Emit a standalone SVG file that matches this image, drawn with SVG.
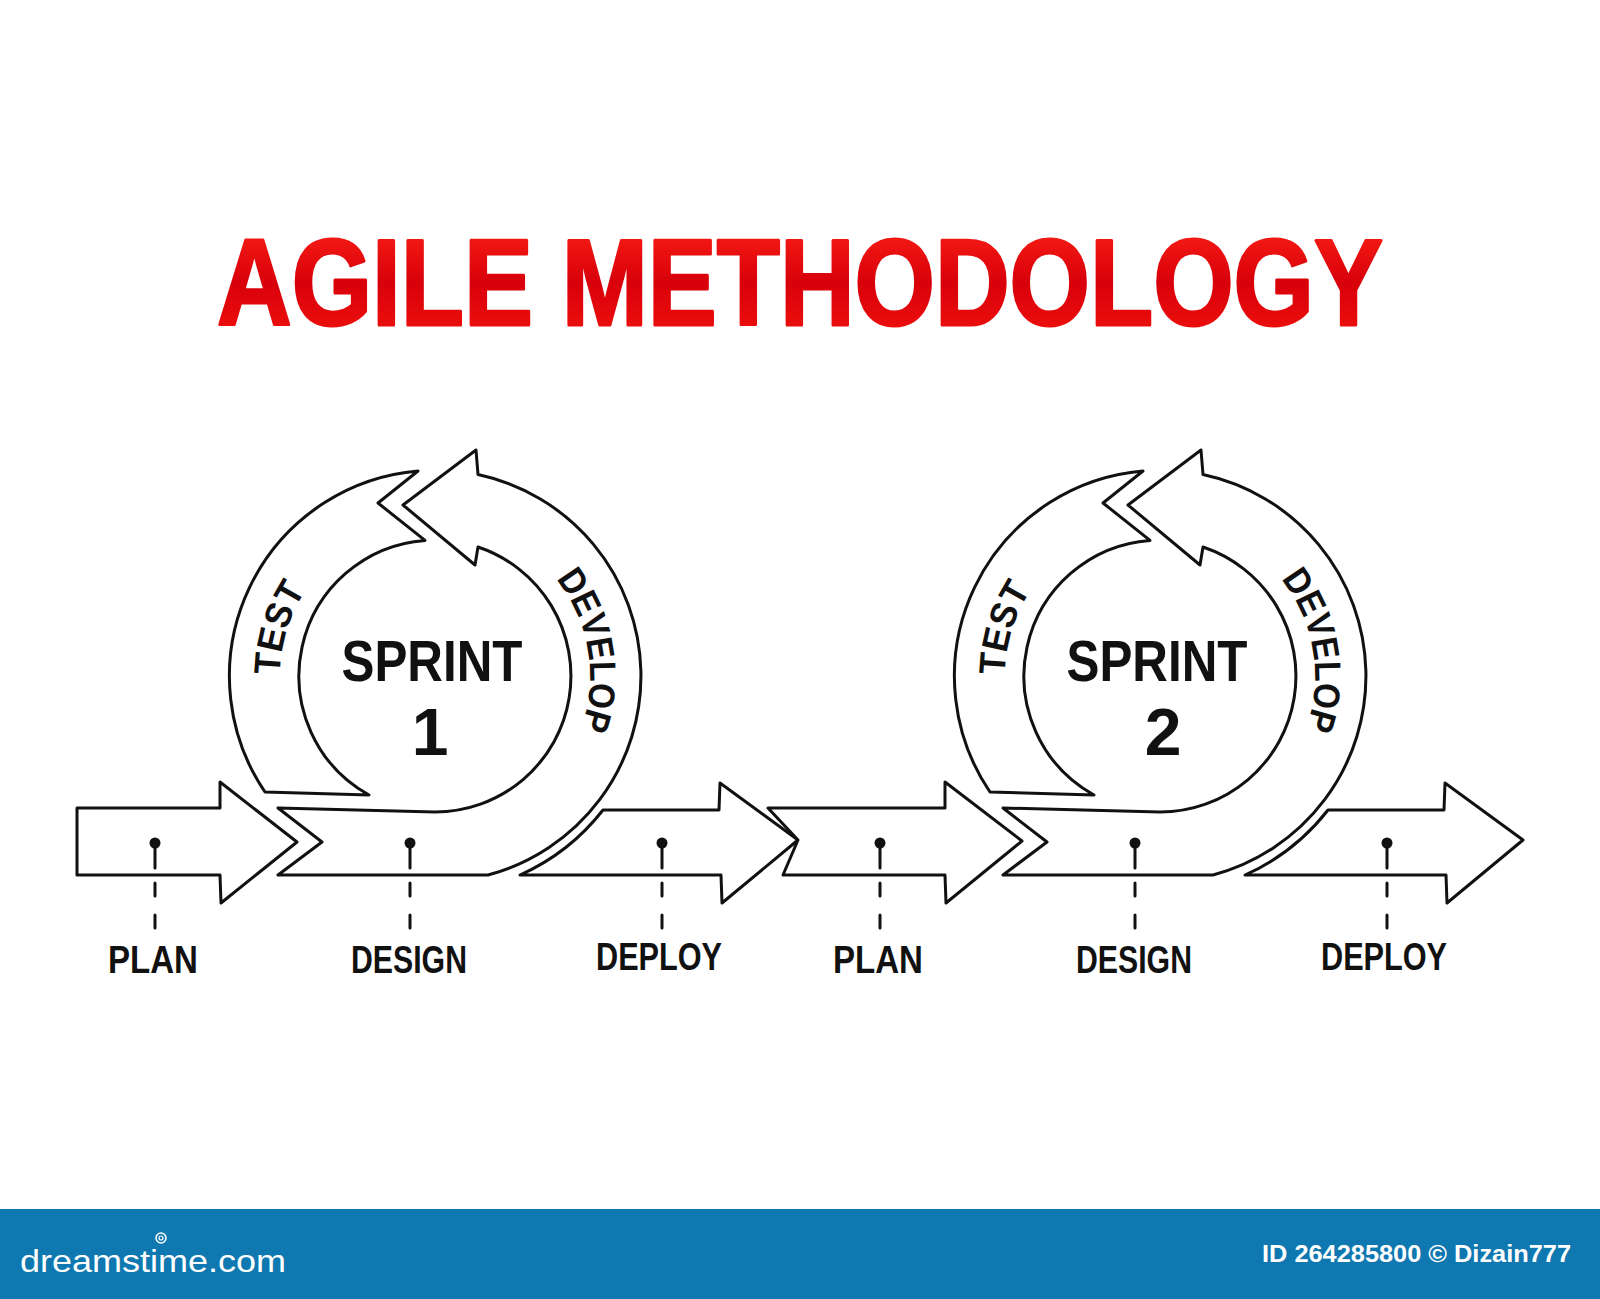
<svg xmlns="http://www.w3.org/2000/svg" xmlns:xlink="http://www.w3.org/1999/xlink" width="1600" height="1299" viewBox="0 0 1600 1299">
<defs>
  <linearGradient id="red" x1="0" y1="0" x2="0" y2="1">
    <stop offset="0" stop-color="#ff2418"/>
    <stop offset="0.5" stop-color="#d8000a"/>
    <stop offset="1" stop-color="#f5150e"/>
  </linearGradient>
  <path id="testPath" d="M292.3,736.6 A155,155 0 0 1 350.6,546"/>
  <path id="developPath" d="M535.7,558.1 A155,155 0 0 1 568.5,754.7"/>
</defs>
<style>
  .shape { fill: #ffffff; stroke: #111111; stroke-width: 3; stroke-linejoin: round; stroke-linecap: round; }
  .ink { font-family: "Liberation Sans", Arial, sans-serif; font-weight: bold; fill: #111111; }
  .lbl { font-size: 39px; text-anchor: middle; }
  .ring { font-size: 37px; }
  .sprint { font-size: 58px; text-anchor: middle; }
  .num { font-size: 66px; text-anchor: middle; }
  .dot { fill: #111111; }
  .lead { stroke: #111111; stroke-width: 3; stroke-linecap: round; fill: none; }
  .foot { font-family: "Liberation Sans", Arial, sans-serif; fill: #ffffff; }
</style>
<rect x="0" y="0" width="1600" height="1299" fill="#ffffff"/>

<g id="title">
  <text x="217" y="325" font-family="'Liberation Sans', Arial, sans-serif" font-weight="bold" font-size="122" fill="url(#red)" stroke="url(#red)" stroke-width="3" stroke-linejoin="round" textLength="1166" lengthAdjust="spacingAndGlyphs">AGILE METHODOLOGY</text>
</g>

<g id="sprint-1">
  <path class="shape" d="M418,471 A206,206 0 0 0 265,792 L369,795 A136,136 0 0 1 425,540.4 L378,503 Z"/>
  <path class="shape" d="M278,808 L322,842 L278,875 L488,875 A206,206 0 0 0 478,474.5 L476,450 L403,505 L475,565 L478,547 A136,136 0 0 1 435,812 Z"/>
  <text class="ink ring"><textPath xlink:href="#testPath" href="#testPath" startOffset="50%" text-anchor="middle" textLength="90" lengthAdjust="spacingAndGlyphs">TEST</textPath></text>
  <text class="ink ring"><textPath xlink:href="#developPath" href="#developPath" startOffset="50%" text-anchor="middle" textLength="158" lengthAdjust="spacingAndGlyphs">DEVELOP</textPath></text>
  <text class="ink sprint" x="432" y="681" textLength="181" lengthAdjust="spacingAndGlyphs">SPRINT</text>
  <text class="ink num" x="430" y="755">1</text>
</g>

<g id="sprint-2" transform="translate(725,0)">
  <path class="shape" d="M418,471 A206,206 0 0 0 265,792 L369,795 A136,136 0 0 1 425,540.4 L378,503 Z"/>
  <path class="shape" d="M278,808 L322,842 L278,875 L488,875 A206,206 0 0 0 478,474.5 L476,450 L403,505 L475,565 L478,547 A136,136 0 0 1 435,812 Z"/>
  <text class="ink ring"><textPath xlink:href="#testPath" href="#testPath" startOffset="50%" text-anchor="middle" textLength="90" lengthAdjust="spacingAndGlyphs">TEST</textPath></text>
  <text class="ink ring"><textPath xlink:href="#developPath" href="#developPath" startOffset="50%" text-anchor="middle" textLength="158" lengthAdjust="spacingAndGlyphs">DEVELOP</textPath></text>
  <text class="ink sprint" x="432" y="681" textLength="181" lengthAdjust="spacingAndGlyphs">SPRINT</text>
  <text class="ink num" x="438" y="755">2</text>
</g>

<g id="plan-1">
  <path class="shape" d="M77,808 L220,808 L220,782 L297,842 L221,903 L220,875 L77,875 Z"/>
  <circle class="dot" cx="155" cy="843" r="5.5"/>
  <text class="ink lbl" x="153" y="973" textLength="90" lengthAdjust="spacingAndGlyphs">PLAN</text>
</g>
<g id="design-1">
  <circle class="dot" cx="410" cy="843" r="5.5"/>
  <text class="ink lbl" x="409" y="973" textLength="116" lengthAdjust="spacingAndGlyphs">DESIGN</text>
</g>
<g id="deploy-1">
  <path class="shape" d="M520,875 A218,218 0 0 0 603,810 L719,810 L720,783 L798,840 L722,903 L721,875 Z"/>
  <circle class="dot" cx="662" cy="843" r="5.5"/>
  <text class="ink lbl" x="659" y="970" textLength="126" lengthAdjust="spacingAndGlyphs">DEPLOY</text>
</g>

<g id="plan-2">
  <path class="shape" d="M768,808 L945,808 L945,782 L1022,841 L946,903 L945,875 L783,875 L798,840 Z"/>
  <circle class="dot" cx="880" cy="843" r="5.5"/>
  <text class="ink lbl" x="878" y="973" textLength="90" lengthAdjust="spacingAndGlyphs">PLAN</text>
</g>
<g id="design-2">
  <circle class="dot" cx="1135" cy="843" r="5.5"/>
  <text class="ink lbl" x="1134" y="973" textLength="116" lengthAdjust="spacingAndGlyphs">DESIGN</text>
</g>
<g id="deploy-2" transform="translate(725,0)">
  <path class="shape" d="M520,875 A218,218 0 0 0 603,810 L719,810 L720,783 L798,840 L722,903 L721,875 Z"/>
  <circle class="dot" cx="662" cy="843" r="5.5"/>
  <text class="ink lbl" x="659" y="970" textLength="126" lengthAdjust="spacingAndGlyphs">DEPLOY</text>
</g>

<g id="connectors">
  <path class="lead" d="M155,846 V868 M155,883 V896 M155,915 V928"/>
  <path class="lead" d="M410,846 V868 M410,883 V896 M410,915 V928"/>
  <path class="lead" d="M662,846 V868 M662,883 V896 M662,915 V928"/>
  <path class="lead" d="M880,846 V868 M880,883 V896 M880,915 V928"/>
  <path class="lead" d="M1135,846 V868 M1135,883 V896 M1135,915 V928"/>
  <path class="lead" d="M1387,846 V868 M1387,883 V896 M1387,915 V928"/>
</g>

<g id="footer">
  <rect x="0" y="1209" width="1600" height="90" fill="#0f78b0"/>
  <text class="foot" x="20" y="1272" font-size="32" textLength="266" lengthAdjust="spacingAndGlyphs">dreamstime.com</text>
  <circle cx="161" cy="1238" r="5" fill="none" stroke="#ffffff" stroke-width="1.5"/>
  <circle cx="161" cy="1238" r="2" fill="none" stroke="#ffffff" stroke-width="1.2"/>
  <text class="foot" x="1262" y="1262" font-size="24" font-weight="bold" textLength="309" lengthAdjust="spacingAndGlyphs">ID 264285800 © Dizain777</text>
</g>
</svg>
